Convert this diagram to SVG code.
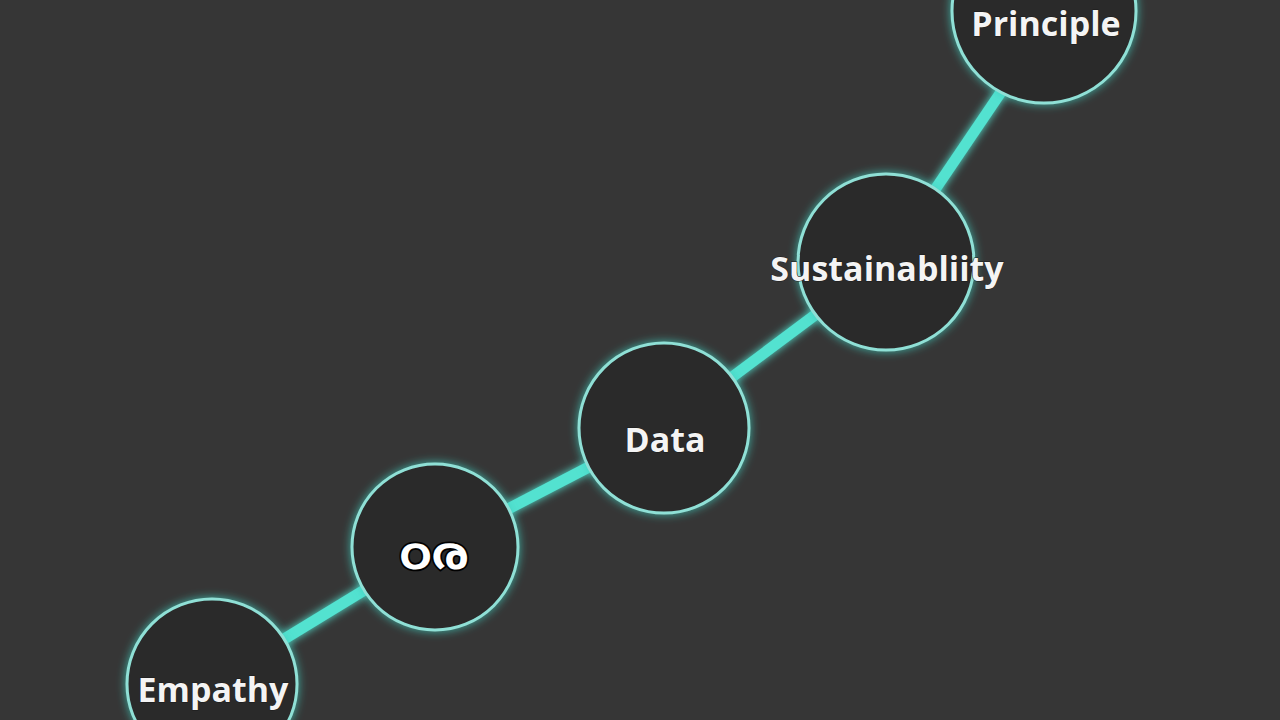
<svg xmlns="http://www.w3.org/2000/svg" width="1280" height="720" viewBox="0 0 1280 720">
<defs>
<filter id="glow" x="-30%" y="-30%" width="160%" height="160%">
<feGaussianBlur in="SourceAlpha" stdDeviation="5" result="a"/>
<feFlood flood-color="#3fcfbf" flood-opacity="0.8"/>
<feComposite in2="a" operator="in" result="g"/>
<feMerge><feMergeNode in="g"/><feMergeNode in="SourceGraphic"/></feMerge>
</filter>
<filter id="lglow" x="-20%" y="-20%" width="140%" height="140%">
<feGaussianBlur in="SourceGraphic" stdDeviation="4" result="b"/>
<feMerge><feMergeNode in="b"/><feMergeNode in="SourceGraphic"/></feMerge>
</filter>
</defs>
<style>
.node{fill:#2a2a2b;stroke:#8fe0d6;stroke-width:3;filter:url(#glow)}
.edge{stroke:#52e2d0;stroke-width:11;stroke-linecap:butt;filter:url(#lglow)}
.lbl{font-family:"Open Sans","Noto Sans","DejaVu Sans",sans-serif;font-weight:700;fill:#f4f4f4;text-anchor:middle;stroke:#1a1a1a;stroke-width:1;paint-order:stroke}
.mal{font-family:"Noto Sans Malayalam","Noto Sans","DejaVu Sans",sans-serif;font-weight:700;fill:#ffffff;stroke:#000;stroke-width:3.5;paint-order:stroke;text-anchor:middle}
</style>
<rect width="1280" height="720" fill="#363636"/>
<g id="connectors">
<line class="edge" x1="212" y1="683" x2="435" y2="547"/>
<line class="edge" x1="435" y1="547" x2="664" y2="428"/>
<line class="edge" x1="664" y1="428" x2="886" y2="262"/>
<line class="edge" x1="886" y1="262" x2="1043" y2="30"/>
</g>
<g id="node-empathy">
<circle class="node" cx="212" cy="684" r="85"/>
<text class="lbl" x="213" y="702" font-size="34">Empathy</text>
</g>
<g id="node-mal">
<circle class="node" cx="435" cy="547" r="83"/>
<text class="mal" x="434" y="569" font-size="45">ഠര</text>
</g>
<g id="node-data">
<circle class="node" cx="664" cy="428" r="85"/>
<text class="lbl" x="665" y="452" font-size="34">Data</text>
</g>
<g id="node-sustainability">
<circle class="node" cx="886" cy="262" r="88"/>
<text class="lbl" x="887" y="281" font-size="34">Sustainabliity</text>
</g>
<g id="node-principle">
<circle class="node" cx="1044" cy="11" r="92"/>
<text class="lbl" x="1046" y="36" font-size="34">Principle</text>
</g>
</svg>
